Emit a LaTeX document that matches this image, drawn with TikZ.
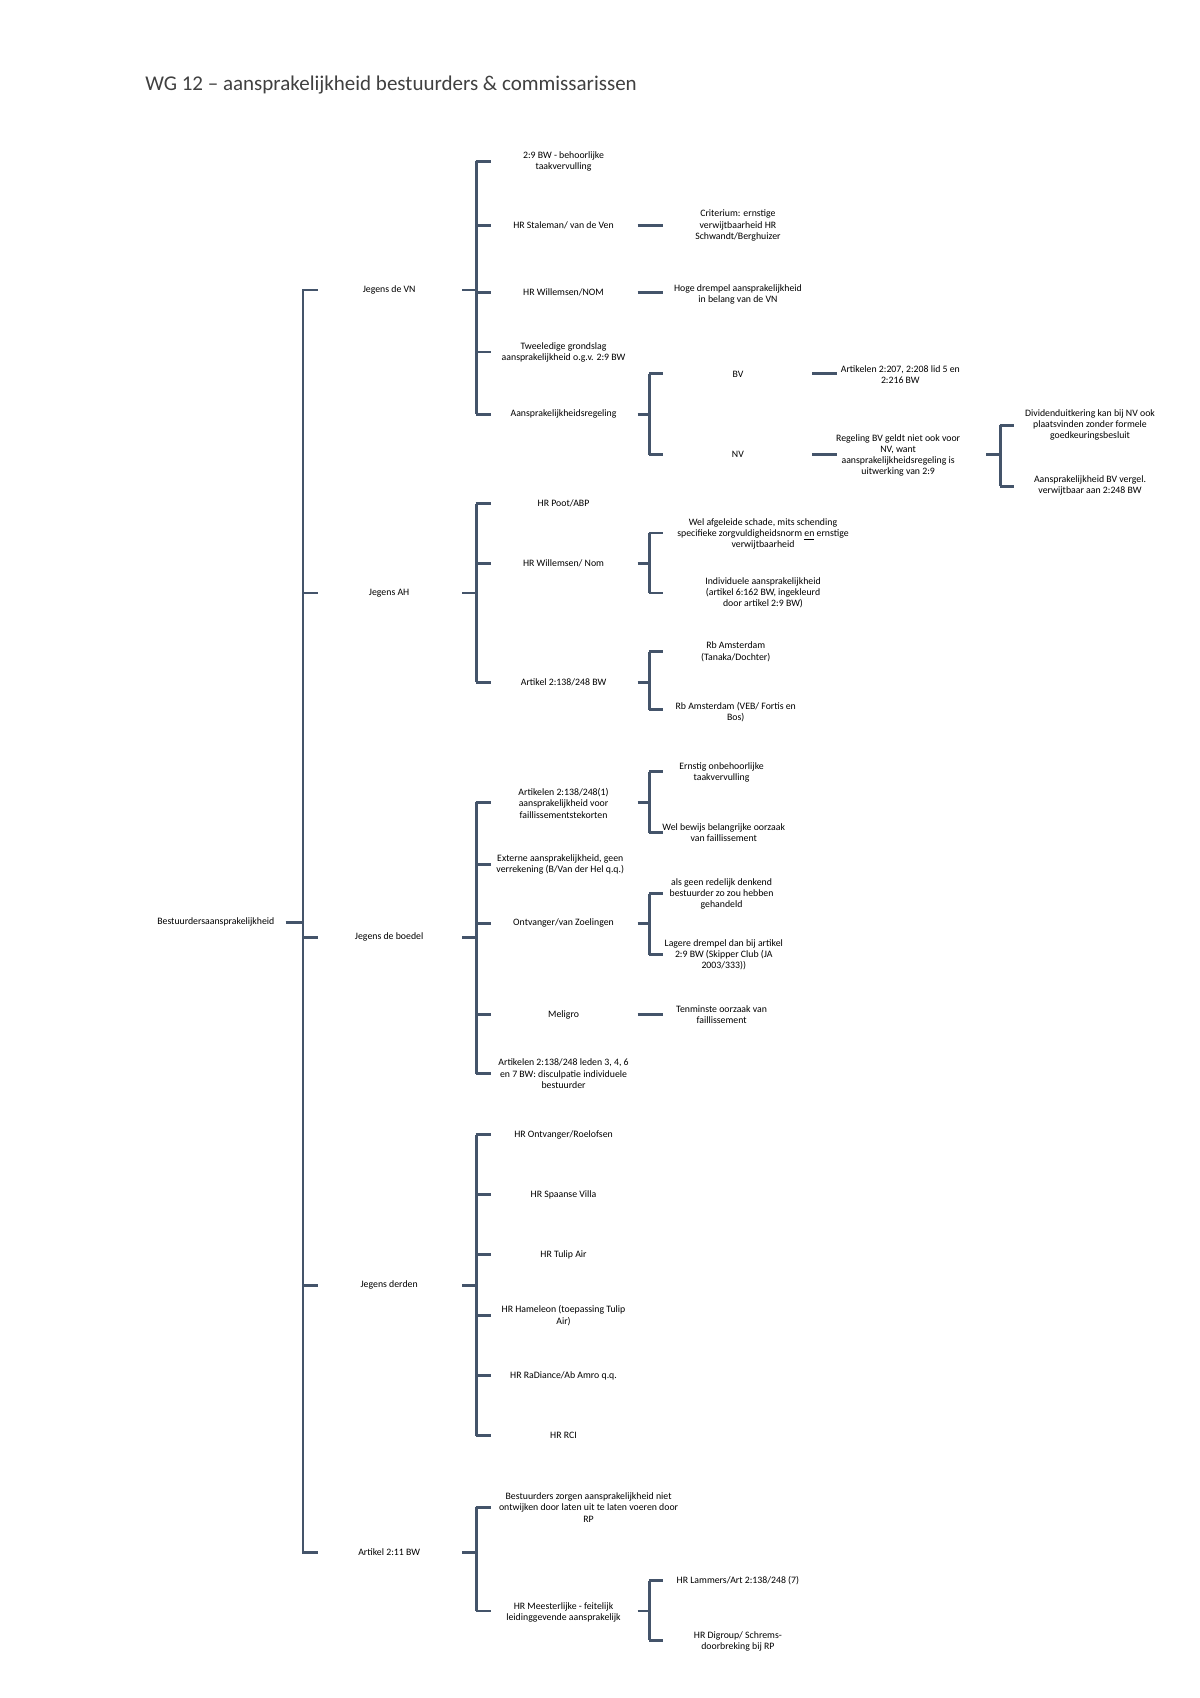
\documentclass[tikz,border=0pt]{standalone}
\usepackage{fontspec}
\setmainfont{Carlito}
\definecolor{ln}{HTML}{44546A}
\definecolor{tt}{HTML}{404040}
\tikzset{br/.style={draw=ln,line width=1.4pt},
 lab/.style={align=center,inner sep=0pt,font=\fontsize{4.9}{5.6}\selectfont,text=black}}
\newcommand\mybrk[7]{%
 \draw[br] (#1,#4) -- (#2,#4);
 \draw[br] (#2,#6) -- (#2,#7);
 \foreach \yy in {#5} {\draw[br] (#2-0.6,\yy) -- (#3,\yy);}
}
\begin{document}
\begin{tikzpicture}[x=0.545pt,y=-0.545pt]
\useasboundingbox (0,0) rectangle (1100.9,1557.8);
\node[anchor=west,inner sep=0pt,font=\fontsize{10.5}{12}\selectfont,text=tt] (title) at (133,78) {WG 12 – aansprakelijkheid bestuurders \& commissarissen};

% root
\node[lab] (root) at (198,846) {Bestuurdersaansprakelijkheid};
\mybrk{262}{278}{292}{846}{266,544,860,1179,1424}{266}{1424}

% level 1
\node[lab] (vn) at (357,266) {Jegens de VN};
\node[lab] (ah) at (357,544) {Jegens AH};
\node[lab] (bo) at (357,860) {Jegens de boedel};
\node[lab] (de) at (357,1179) {Jegens derden};
\node[lab] (a211) at (357,1424) {Artikel 2:11 BW};

% VN
\mybrk{424}{437}{450}{266}{148,207,268,323,380}{148}{380}
\node[lab] at (517,148) {2:9 BW - behoorlijke\\taakvervulling};
\node[lab] at (517,207) {HR Staleman/ van de Ven};
\node[lab] at (517,268) {HR Willemsen/NOM};
\node[lab] at (517,323) {Tweeledige grondslag\\aansprakelijkheid o.g.v. 2:9 BW};
\node[lab] at (517,380) {Aansprakelijkheidsregeling};
\draw[br] (585,207) -- (608,207);
\node[lab] at (677,207) {Criterium: ernstige\\verwijtbaarheid HR\\Schwandt/Berghuizer};
\draw[br] (585,268) -- (608,268);
\node[lab] at (677,270) {Hoge drempel aansprakelijkheid\\in belang van de VN};
\mybrk{585}{596}{608}{380}{343,417}{343}{417}
\node[lab] at (677,343) {BV};
\node[lab] at (677,417) {NV};
\draw[br] (745,343) -- (768,343);
\node[lab] at (826,344) {Artikelen 2:207, 2:208 lid 5 en\\2:216 BW};
\draw[br] (745,417) -- (768,417);
\node[lab] at (824,418) {Regeling BV geldt niet ook voor\\NV, want\\aansprakelijkheidsregeling is\\uitwerking van 2:9};
\mybrk{905}{918}{930}{417}{390,446}{390}{446}
\node[lab] at (1000,390) {Dividenduitkering kan bij NV ook\\plaatsvinden zonder formele\\goedkeuringsbesluit};
\node[lab] at (1000,445) {Aansprakelijkheid BV vergel.\\verwijtbaar aan 2:248 BW};

% AH
\mybrk{424}{437}{450}{544}{462,517,626}{462}{626}
\node[lab] at (517,462) {HR Poot/ABP};
\node[lab] at (517,517) {HR Willemsen/ Nom};
\node[lab] at (517,626) {Artikel 2:138/248 BW};
\mybrk{585}{596}{608}{517}{489,544}{489}{544}
\node[lab] at (700,490) {Wel afgeleide schade, mits schending\\specifieke zorgvuldigheidsnorm \raisebox{0pt}[\height][0pt]{\underline{en}} ernstige\\verwijtbaarheid};
\node[lab] at (700,544) {Individuele aansprakelijkheid\\(artikel 6:162 BW, ingekleurd\\door artikel 2:9 BW)};
\mybrk{585}{596}{608}{626}{598,651}{598}{651}
\node[lab] at (675,598) {Rb Amsterdam\\(Tanaka/Dochter)};
\node[lab] at (675,653) {Rb Amsterdam (VEB/ Fortis en\\Bos)};

% boedel
\mybrk{424}{437}{450}{860}{736,793,847,931,985}{736}{985}
\node[lab] at (517,737) {Artikelen 2:138/248(1)\\aansprakelijkheid voor\\faillissementstekorten};
\node[lab] at (514,793) {Externe aansprakelijkheid, geen\\verrekening (B/Van der Hel q.q.)};
\node[lab] at (517,847) {Ontvanger/van Zoelingen};
\node[lab] at (517,931) {Meligro};
\node[lab] at (517,985) {Artikelen 2:138/248 leden 3, 4, 6\\en 7 BW: disculpatie individuele\\bestuurder};
\mybrk{585}{596}{608}{736}{708,764}{708}{764}
\node[lab] at (662,709) {Ernstig onbehoorlijke\\taakvervulling};
\node[lab] at (664,764) {Wel bewijs belangrijke oorzaak\\van faillissement};
\mybrk{585}{596}{608}{847}{820,876}{820}{876}
\node[lab] at (662,820) {als geen redelijk denkend\\bestuurder zo zou hebben\\gehandeld};
\node[lab] at (664,876) {Lagere drempel dan bij artikel\\2:9 BW (Skipper Club (JA\\2003/333))};
\draw[br] (585,931) -- (608,931);
\node[lab] at (662,931) {Tenminste oorzaak van\\faillissement};

% derden
\mybrk{424}{437}{450}{1179}{1041,1096,1151,1207,1262,1317}{1041}{1317}
\node[lab] at (517,1041) {HR Ontvanger/Roelofsen};
\node[lab] at (517,1096) {HR Spaanse Villa};
\node[lab] at (517,1151) {HR Tulip Air};
\node[lab] at (517,1207) {HR Hameleon (toepassing Tulip\\Air)};
\node[lab] at (517,1262) {HR RaDiance/Ab Amro q.q.};
\node[lab] at (517,1317) {HR RCI};

% 2:11
\mybrk{424}{437}{450}{1424}{1383,1478}{1383}{1478}
\node[lab] at (540,1383) {Bestuurders zorgen aansprakelijkheid niet\\ontwijken door laten uit te laten voeren door\\RP};
\node[lab] at (517,1479) {HR Meesterlijke - feitelijk\\leidinggevende aansprakelijk};
\mybrk{585}{596}{608}{1478}{1450,1505}{1450}{1505}
\node[lab] at (677,1450) {HR Lammers/Art 2:138/248 (7)};
\node[lab] at (677,1506) {HR Digroup/ Schrems-\\doorbreking bij RP};
\end{tikzpicture}
\end{document}
